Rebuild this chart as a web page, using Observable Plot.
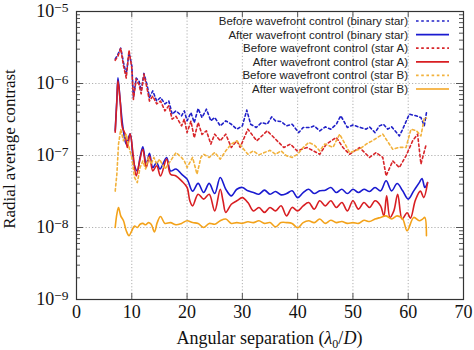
<!DOCTYPE html>
<html><head><meta charset="utf-8">
<script src="https://cdn.jsdelivr.net/npm/d3@7"></script>
<script src="https://cdn.jsdelivr.net/npm/@observablehq/plot@0.6"></script>
<style>
body{margin:0;background:#fff;}
#wrap{position:relative;width:474px;height:350px;}
#legend{position:absolute;left:0;top:0;pointer-events:none;}
</style></head><body><div id="wrap"></div><script>
// Angular separation (λ0/D) vs radial average contrast, [x, contrast]
const binaryBefore = [[7,2.18e-6],[7.5,2.55e-6],[8,3.1e-6],[8.5,1.96e-6],[9,1.35e-6],[9.5,2.7e-6],[10,1.76e-6],[10.3,6.4e-7],[10.8,1.19e-6],[11.3,1.09e-6],[11.7,7.9e-7],[12.2,1.38e-6],[12.8,9.3e-7],[13.2,6.4e-7],[13.8,7.9e-7],[14.5,5.7e-7],[15.2,6.4e-7],[16,5.2e-7],[16.7,5.7e-7],[17.3,3.75e-7],[18,4.17e-7],[19,3.56e-7],[19.5,4.17e-7],[20,3.03e-7],[20.7,3.95e-7],[21.3,2.87e-7],[22,4.5e-7],[22.7,3.37e-7],[23.5,4.4e-7],[24.3,3.03e-7],[25,3.37e-7],[26,2.58e-7],[27,3.03e-7],[28,2.72e-7],[29,2.32e-7],[30,2.58e-7],[30.8,4.27e-7],[31.5,2.72e-7],[32.5,2.45e-7],[33.5,2.87e-7],[34.5,2.72e-7],[35.3,3.44e-7],[36,3.03e-7],[37,2.96e-7],[38,2.58e-7],[39,2.72e-7],[40.2,2.08e-7],[41,2.45e-7],[42.3,2.45e-7],[43,2.58e-7],[44,2.2e-7],[45,2.5e-7],[46,2.32e-7],[47,2.72e-7],[47.8,3.56e-7],[49,2.45e-7],[50,2.66e-7],[51,2.5e-7],[52.4,2.32e-7],[53,2.5e-7],[54,2.08e-7],[54.8,2.58e-7],[55.5,2.72e-7],[56.3,2.32e-7],[57,2.5e-7],[58.4,1.87e-7],[59,2.32e-7],[60.2,3.75e-7],[61.4,3.56e-7],[62.3,3.37e-7],[62.9,2.58e-7],[63.3,3.95e-7]];
const binaryAfter = [[7,2.2e-7],[7.3,6e-7],[7.5,1.2e-6],[7.9,5.8e-7],[8.4,2.45e-7],[9,1.44e-7],[9.7,2.0e-7],[10.4,7.6e-8],[11,6.1e-8],[11.5,9.4e-8],[12,1.32e-7],[12.6,7.6e-8],[13.2,1.07e-7],[13.8,6.8e-8],[14.5,8.0e-8],[15.1,6.5e-8],[16.3,9.4e-8],[17,6.1e-8],[18,6.5e-8],[19,5.5e-8],[20,4.7e-8],[21,3.2e-8],[22,4.1e-8],[23,3.06e-8],[24,4.1e-8],[25,2.96e-8],[26,4.95e-8],[27,3.4e-8],[28,2.75e-8],[29,3.4e-8],[30,3.6e-8],[31,3.23e-8],[32,3.06e-8],[33,2.9e-8],[34,3.3e-8],[35,2.9e-8],[36,3.16e-8],[37,2.84e-8],[38,2.96e-8],[39,3.23e-8],[40,2.6e-8],[41,3.06e-8],[42,3.4e-8],[43,2.96e-8],[44,3.23e-8],[45,3.3e-8],[46,3.6e-8],[47,3.06e-8],[48,3.4e-8],[49,2.96e-8],[50,3.4e-8],[51,3.06e-8],[52,3.4e-8],[53,3.16e-8],[54,3.6e-8],[55,3.23e-8],[56,4.45e-8],[57,3.23e-8],[58,4.08e-8],[59,3.23e-8],[60,2.48e-8],[61,3.23e-8],[62,4.2e-8],[62.5,4.8e-8],[63,3.6e-8],[63.5,4.2e-8]];
const starABefore = [[7,2.1e-6],[7.5,2.4e-6],[8,3.1e-6],[8.5,1.76e-6],[9,1.19e-6],[9.5,2.9e-6],[10,1.65e-6],[10.3,6e-7],[10.8,1.15e-6],[11.3,9.7e-7],[11.7,7.2e-7],[12.2,1.35e-6],[12.8,8.3e-7],[13.2,5.7e-7],[13.8,6.7e-7],[14.5,5.2e-7],[15.2,5.7e-7],[16,4.17e-7],[16.7,4.9e-7],[17.3,3.2e-7],[18,3.5e-7],[19,2.58e-7],[19.5,3.2e-7],[20,2.08e-7],[20.7,3.0e-7],[21.3,1.76e-7],[22,2.87e-7],[22.7,1.96e-7],[23.5,2.2e-7],[24.3,1.44e-7],[25,1.98e-7],[26,1.6e-7],[27,1.98e-7],[28,1.29e-7],[29,1.6e-7],[29.6,1.3e-7],[31,2.32e-7],[32.6,1.6e-7],[34.5,2.2e-7],[35.7,1.78e-7],[37.5,1.29e-7],[38.7,1.44e-7],[39.9,1.16e-7],[41.7,1.29e-7],[44,1.04e-7],[45.2,1.44e-7],[47,1.78e-7],[48.2,1.29e-7],[49.4,1.04e-7],[51.2,1.29e-7],[53,9.4e-8],[54.2,1.1e-7],[55.4,9.4e-8],[56,5.2e-8],[57.2,8.4e-8],[58.4,6.8e-8],[59.6,9.9e-8],[60.8,1.6e-7],[61.7,1.98e-7],[62.3,7.6e-8],[63.2,1.38e-7]];
const starAAfter = [[7,2.1e-7],[7.3,5.7e-7],[7.5,1.09e-6],[7.9,5.7e-7],[8.3,2.45e-7],[8.8,1.98e-7],[9.2,1.29e-7],[9.7,2.0e-7],[10.3,9.4e-8],[10.8,5.2e-8],[11.3,7.6e-8],[12,1.22e-7],[12.6,6.8e-8],[13.2,9.9e-8],[13.8,6.1e-8],[14.5,7.2e-8],[15.2,5.2e-8],[16.3,8.9e-8],[17,5.5e-8],[18,5.2e-8],[19,4.45e-8],[20,3.6e-8],[20.5,2.35e-8],[21,2.0e-8],[22,2.9e-8],[23,2.48e-8],[24,2.9e-8],[25,1.7e-8],[26,3.4e-8],[26.5,2.35e-8],[27,1.62e-8],[28,2.1e-8],[29,2.35e-8],[30,2.6e-8],[31,2.22e-8],[32,1.7e-8],[33,1.9e-8],[34,1.62e-8],[35,1.9e-8],[36,1.7e-8],[37,2.0e-8],[38,1.45e-8],[39,1.9e-8],[40,1.7e-8],[41,2.0e-8],[42,2.22e-8],[43,1.8e-8],[44,2.35e-8],[45,2.0e-8],[46,2.35e-8],[47,1.9e-8],[48,2.22e-8],[49,1.7e-8],[50,2.35e-8],[51,1.8e-8],[52,2.22e-8],[53,1.9e-8],[54,2.35e-8],[55,2.0e-8],[55.6,1.45e-8],[56.1,2.75e-8],[56.7,1.38e-8],[57.4,1.7e-8],[58.1,2.9e-8],[58.9,1.31e-8],[59.8,1.6e-8],[60.4,1.35e-8],[61.3,2.4e-8],[62.2,3.2e-8],[62.8,2.6e-8],[63.5,4.2e-8]];
const starBBefore = [[7,3.2e-8],[7.3,5.5e-8],[7.6,1.44e-7],[8,2.3e-7],[8.5,1.6e-7],[9,1.98e-7],[9.5,1.29e-7],[10,9.4e-8],[10.5,4.95e-8],[11,4.2e-8],[11.5,6.8e-8],[12,8.4e-8],[12.5,6.5e-8],[13,9.4e-8],[13.5,7.6e-8],[14,9.4e-8],[14.5,7.6e-8],[15,8.9e-8],[16,6.5e-8],[17,8.4e-8],[18,1.1e-7],[19,9.4e-8],[19.5,8.4e-8],[20,6.8e-8],[20.5,8e-8],[21,9.4e-8],[21.8,5.5e-8],[22.5,9.4e-8],[23,1.04e-7],[24,9.4e-8],[25,1.1e-7],[26,8.9e-8],[27,1.16e-7],[28,1.44e-7],[29,1.6e-7],[30,1.29e-7],[31,1.04e-7],[32,1.16e-7],[33,1.02e-7],[34,1.1e-7],[35,1.18e-7],[36,1.04e-7],[37,1.16e-7],[38,9.9e-8],[39,9.4e-8],[40,1.04e-7],[41,1.29e-7],[42,1.52e-7],[43,1.4e-7],[44,1.16e-7],[44.9,1.44e-7],[46.4,1.3e-7],[47.6,1.98e-7],[49.4,1.1e-7],[51.2,1.22e-7],[52.4,1.44e-7],[53.5,1.6e-7],[55.4,1.98e-7],[57.2,1.22e-7],[58.4,1.3e-7],[59.6,1.29e-7],[60.5,2.32e-7],[61.5,2.2e-7],[62.3,1.87e-7],[62.9,3.3e-7],[63.3,3.3e-7]];
const starBAfter = [[7,1.0e-8],[7.3,1.53e-8],[7.6,1.9e-8],[8,1.45e-8],[8.5,1.24e-8],[9,9.0e-9],[9.5,7.7e-9],[10,9.0e-9],[10.5,1.05e-8],[11,1.0e-8],[11.5,1.11e-8],[12,1.14e-8],[12.5,1.09e-8],[13,1.17e-8],[13.5,1.11e-8],[14.1,8.7e-9],[14.6,1.17e-8],[15.2,1.42e-8],[16,1.14e-8],[17,1.17e-8],[18,1.09e-8],[19,1.14e-8],[20,1.24e-8],[21,1.17e-8],[22,1.14e-8],[23,1.0e-8],[24,1.14e-8],[25,1.11e-8],[26,1.24e-8],[27,1.31e-8],[28,1.14e-8],[29,1.17e-8],[30,1.14e-8],[31,1.2e-8],[32,1.17e-8],[33,1.24e-8],[34,1.14e-8],[35,1.17e-8],[36,1.02e-8],[37,1.17e-8],[38,1.17e-8],[39,1.14e-8],[40,9.9e-9],[41,1.17e-8],[42,1.24e-8],[43,1.17e-8],[44,1.31e-8],[45,1.14e-8],[46,1.26e-8],[47,1.17e-8],[48,1.21e-8],[49,1.14e-8],[50,1.17e-8],[51,1.14e-8],[52,1.26e-8],[53,1.21e-8],[54,1.31e-8],[55,1.38e-8],[56,1.45e-8],[57,1.31e-8],[58,1.45e-8],[59,1.31e-8],[59.8,9.0e-9],[61,1.38e-8],[62,1.24e-8],[62.6,1.31e-8],[63,1.38e-8],[63.3,7.7e-9]];

const seriesNames = ["Before wavefront control (binary star)","After wavefront control (binary star)","Before wavefront control (star A)","After wavefront control (star A)","Before wavefront control (star B)","After wavefront control (star B)"];
const xTicks = [0,10,20,30,40,50,60,70];
const yTicks = [1e-9,1e-8,1e-7,1e-6,1e-5];

const seriesData = [binaryBefore, binaryAfter, starABefore, starAAfter, starBBefore, starBAfter];
const colors = ["#2020c8","#1a1ad0","#d8262a","#d81e22","#f2b23c","#f3a21a"];
const dashed = [true,false,true,false,true,false];

const SERIF = "'Liberation Serif', 'DejaVu Serif', serif";
const W = 474, H = 350, mL = 76, mR = 11, mT = 11, mB = 51;
const pw = W - mL - mR, ph = H - mT - mB;
const yMinor = d3.range(-9,-5).flatMap(e => d3.range(2,10).map(k => k * 10 ** e));
const gridCol = "#b0b0b0", tickCol = "#555";

const lineMarks = seriesData.map((s, i) => Plot.line(s, {
  x: d => d[0], y: d => d[1], stroke: colors[i],
  strokeWidth: 1.6,
  strokeDasharray: dashed[i] ? "2.6,2.6" : null,
  curve: dashed[i] ? "linear" : "catmull-rom"
}));

const chart = Plot.plot({
  width: W, height: H, marginLeft: mL, marginRight: mR, marginTop: mT, marginBottom: mB,
  style: {fontFamily: SERIF, fontSize: "18px", color: "#111", background: "#fff"},
  x: {domain: [0, 70]},
  y: {type: "log", domain: [1e-9, 1e-5]},
  marks: [
    Plot.gridX(xTicks.slice(1, -1), {stroke: gridCol, strokeOpacity: 1, strokeDasharray: "1.2,2"}),
    Plot.gridY(yTicks.slice(1, -1), {stroke: gridCol, strokeOpacity: 1, strokeDasharray: "1.2,2"}),
    Plot.gridY(yMinor, {stroke: tickCol, strokeOpacity: 1, insetRight: pw - 4}),
    Plot.gridY(yMinor, {stroke: tickCol, strokeOpacity: 1, insetLeft: pw - 4}),
    Plot.gridY(yTicks, {stroke: tickCol, strokeOpacity: 1, insetRight: pw - 7}),
    Plot.gridY(yTicks, {stroke: tickCol, strokeOpacity: 1, insetLeft: pw - 7}),
    Plot.gridX(xTicks, {stroke: tickCol, strokeOpacity: 1, insetTop: ph - 6}),
    Plot.gridX(xTicks, {stroke: tickCol, strokeOpacity: 1, insetBottom: ph - 6}),
    Plot.axisX(xTicks, {tickSize: 0, tickPadding: 6, tickFormat: d => String(d), label: null, fontSize: 18, fontFamily: SERIF}),
    Plot.axisY(yTicks, {tickSize: 0, tickPadding: 8, tickFormat: d => String(Math.round(Math.log10(d))), label: null, fontSize: 18, fontFamily: SERIF}),
    ...lineMarks,
    Plot.frame({stroke: "#333", strokeWidth: 1.2})
  ]
});
document.getElementById("wrap").appendChild(chart);

const svg = d3.select(chart);
svg.selectAll('g[aria-label="x-axis tick label"] text, g[aria-label="y-axis tick label"] text')
  .attr("font-family", SERIF).attr("font-size", 18).attr("fill", "#111");
// y tick labels as powers of ten
svg.selectAll('g[aria-label="y-axis tick label"] text').each(function() {
  const e = this.textContent.replace("-", "\u2212");
  const t = d3.select(this);
  t.text(null);
  t.append("tspan").text("10");
  t.append("tspan").attr("dy", "-0.42em").attr("font-size", 13.5).text(e);
});
// axis titles
svg.append("text").attr("x", mL + pw / 2).attr("y", 344).attr("text-anchor", "middle")
  .attr("font-family", SERIF).attr("font-size", 18).attr("fill", "#111")
  .call(t => {
    t.append("tspan").text("Angular separation (");
    t.append("tspan").attr("font-style", "italic").text("λ");
    t.append("tspan").attr("font-size", 12).attr("dy", 4).text("0");
    t.append("tspan").attr("dy", -4).text("/");
    t.append("tspan").attr("font-style", "italic").text("D");
    t.append("tspan").text(")");
  });
svg.append("text").attr("transform", "translate(15,149) rotate(-90)").attr("text-anchor", "middle")
  .attr("font-family", SERIF).attr("font-size", 17).attr("fill", "#111").text("Radial average contrast");

// legend
const lg = d3.select("#wrap").append("svg").attr("id", "legend").attr("width", W).attr("height", H);
seriesNames.forEach((name, i) => {
  const y = 21 + i * 13.6;
  lg.append("text").attr("x", 408).attr("y", y).attr("dy", "0.35em").attr("text-anchor", "end")
    .attr("font-family", "'Liberation Sans', Arial, sans-serif").attr("font-size", 11.5).attr("fill", "#222").text(name);
  lg.append("line").attr("x1", 416).attr("x2", 449).attr("y1", y).attr("y2", y)
    .attr("stroke", colors[i]).attr("stroke-width", 1.7)
    .attr("stroke-dasharray", dashed[i] ? "2.6,2.6" : null);
});
</script></body></html>
